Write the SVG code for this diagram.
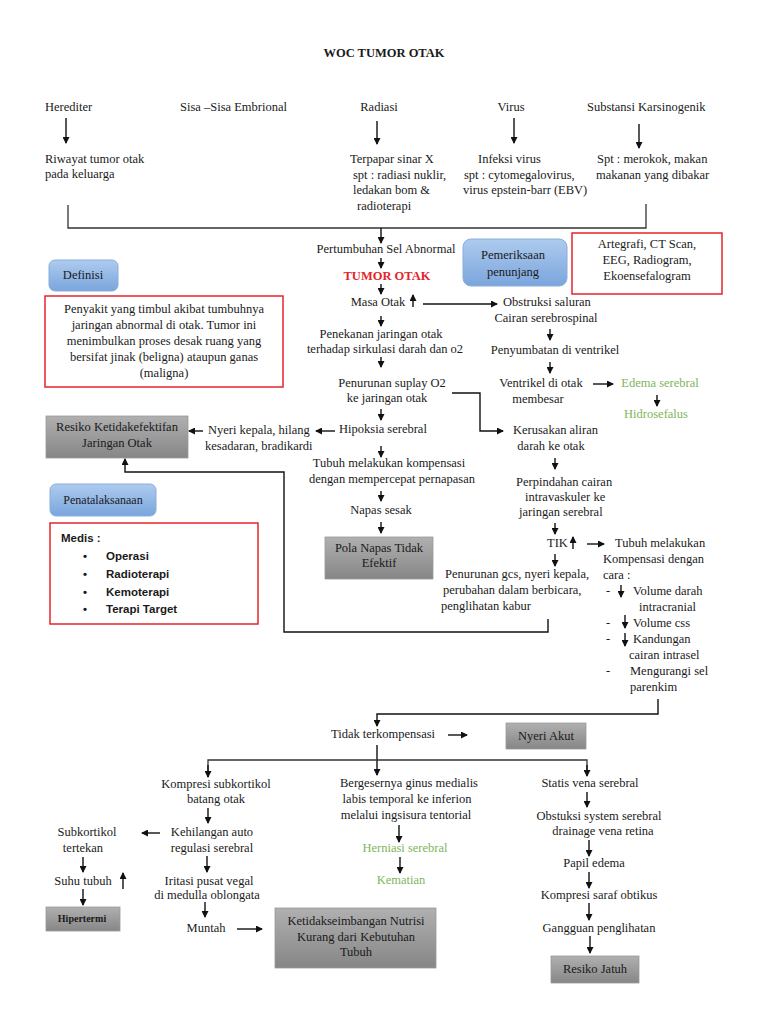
<svg xmlns="http://www.w3.org/2000/svg" width="768" height="1024" viewBox="0 0 768 1024">
<defs>
<linearGradient id="gray" x1="0" y1="0" x2="0" y2="1"><stop offset="0" stop-color="#b0b0b0"/><stop offset="1" stop-color="#868686"/></linearGradient>
<linearGradient id="blue" x1="0" y1="0" x2="0" y2="1"><stop offset="0" stop-color="#aecbef"/><stop offset="1" stop-color="#7aa5dc"/></linearGradient>
<marker id="ah" markerWidth="7" markerHeight="7" refX="6" refY="3.5" orient="auto" markerUnits="userSpaceOnUse"><path d="M0,0 L7,3.5 L0,7 Z" fill="#111"/></marker>
<style>
text{font-family:"Liberation Serif","Times New Roman",serif;font-size:12.5px;fill:#1a1a1a}
.m{text-anchor:middle}
.b{font-weight:bold}
.red{fill:#e3242b}
.grn{fill:#7db65a}
.sans{font-family:"Liberation Sans",Arial,sans-serif;font-weight:bold;font-size:11.5px}
.gbox{fill:url(#gray);stroke:#9a9a9a;stroke-width:0.8}
.bbtn{fill:url(#blue);stroke:#8aaed9;stroke-width:1}
.rbox{fill:#fff;stroke:#e3242b;stroke-width:1.5}
.ar{stroke:#111;stroke-width:1.4;fill:none;marker-end:url(#ah)}
.ln{stroke:#333;stroke-width:1.3;fill:none}
</style>
</defs>
<rect width="768" height="1024" fill="#fff"/>
<text x="384" y="57" class="m b">WOC TUMOR OTAK</text>

<g id="causes">
<g id="herediter"><text x="45" y="111">Herediter</text></g>
<g id="sisa"><text x="180" y="111">Sisa –Sisa Embrional</text></g>
<g id="radiasi"><text x="379" y="111" class="m">Radiasi</text></g>
<g id="virus"><text x="511" y="111" class="m">Virus</text></g>
<g id="substansi"><text x="587" y="111">Substansi Karsinogenik</text></g>
<g id="riwayat"><text x="45" y="163">Riwayat tumor otak</text><text x="45" y="178">pada keluarga</text></g>
<g id="terpapar"><text x="350" y="163">Terpapar sinar X</text><text x="353" y="178.5">spt : radiasi nuklir,</text><text x="353" y="194">ledakan bom &amp;</text><text x="357" y="209.5">radioterapi</text></g>
<g id="infeksi"><text x="478" y="163">Infeksi virus</text><text x="464" y="178.5">spt : cytomegalovirus,</text><text x="463" y="194">virus epstein-barr (EBV)</text></g>
<g id="merokok"><text x="597" y="163">Spt : merokok, makan</text><text x="596" y="178.5">makanan yang dibakar</text></g>
</g>

<g id="pertumbuhan"><text x="386" y="253" class="m">Pertumbuhan Sel Abnormal</text></g>
<g id="tumor"><text x="387" y="280" class="m b red">TUMOR OTAK</text></g>
<g id="masa"><text x="378" y="306" class="m">Masa Otak</text></g>
<g id="penekanan"><text x="381" y="338" class="m">Penekanan jaringan otak</text><text x="385" y="353" class="m">terhadap sirkulasi darah dan o2</text></g>
<g id="penurunan-o2"><text x="392" y="387" class="m">Penurunan suplay O2</text><text x="387" y="402" class="m">ke jaringan otak</text></g>
<g id="hipoksia"><text x="383" y="433" class="m">Hipoksia serebral</text></g>
<g id="nyeri-kepala"><text x="208" y="434">Nyeri kepala, hilang</text><text x="205" y="450">kesadaran, bradikardi</text></g>
<g id="resiko-jaringan"><rect x="46" y="416" width="142" height="42" class="gbox"/><text x="117" y="431" class="m">Resiko Ketidakefektifan</text><text x="117" y="447" class="m">Jaringan Otak</text></g>
<g id="kompensasi-napas"><text x="389" y="467" class="m">Tubuh melakukan kompensasi</text><text x="392" y="483" class="m">dengan mempercepat pernapasan</text></g>
<g id="napas-sesak"><text x="381" y="514" class="m">Napas sesak</text></g>
<g id="pola-napas"><rect x="325" y="537" width="108" height="42" class="gbox"/><text x="379" y="552" class="m">Pola Napas Tidak</text><text x="379" y="567" class="m">Efektif</text></g>

<g id="definisi"><rect x="49" y="260" width="69" height="31" rx="6" class="bbtn"/><text x="83" y="279" class="m">Definisi</text></g>
<g id="definisi-text"><rect x="45" y="296" width="238" height="91" class="rbox"/>
<text x="164" y="313" class="m">Penyakit yang timbul akibat tumbuhnya</text>
<text x="164" y="329" class="m">jaringan abnormal di otak. Tumor ini</text>
<text x="164" y="345" class="m">menimbulkan proses desak ruang yang</text>
<text x="164" y="361" class="m">bersifat jinak (beligna) ataupun ganas</text>
<text x="164" y="377" class="m">(maligna)</text></g>
<g id="penatalaksanaan"><rect x="50" y="484" width="106" height="32" rx="6" class="bbtn"/><text x="103" y="504" class="m" style="font-size:12px">Penatalaksanaan</text></g>
<g id="medis"><rect x="50" y="523" width="208" height="101" class="rbox"/>
<text x="61" y="542" class="sans">Medis :</text>
<text x="83" y="560" class="sans">•</text><text x="106" y="560" class="sans">Operasi</text>
<text x="83" y="578" class="sans">•</text><text x="106" y="578" class="sans">Radioterapi</text>
<text x="83" y="596" class="sans">•</text><text x="106" y="596" class="sans">Kemoterapi</text>
<text x="83" y="613" class="sans">•</text><text x="106" y="613" class="sans">Terapi Target</text></g>

<g id="penunjang"><rect x="463" y="239" width="104" height="47" rx="8" class="bbtn"/><text x="513" y="259" class="m">Pemeriksaan</text><text x="513" y="276" class="m">penunjang</text></g>
<g id="penunjang-text"><rect x="572" y="233" width="150" height="61" class="rbox"/><text x="647" y="248" class="m">Artegrafi, CT Scan,</text><text x="647" y="264" class="m">EEG, Radiogram,</text><text x="647" y="280" class="m">Ekoensefalogram</text></g>
<g id="obstruksi"><text x="503" y="306">Obstruksi saluran</text><text x="546" y="322" class="m">Cairan serebrospinal</text></g>
<g id="penyumbatan"><text x="555" y="354" class="m">Penyumbatan di ventrikel</text></g>
<g id="ventrikel"><text x="541" y="387" class="m">Ventrikel di otak</text><text x="538" y="403" class="m">membesar</text></g>
<g id="edema"><text x="660" y="387" class="m grn">Edema serebral</text></g>
<g id="hidrosefalus"><text x="656" y="418" class="m grn">Hidrosefalus</text></g>
<g id="kerusakan"><text x="513" y="434">Kerusakan aliran</text><text x="551" y="450" class="m">darah ke otak</text></g>
<g id="perpindahan"><text x="516" y="486">Perpindahan cairan</text><text x="525" y="501">intravaskuler ke</text><text x="519" y="516">jaringan serebral</text></g>
<g id="tik"><text x="547" y="547">TIK</text></g>
<g id="penurunan-gcs"><text x="445" y="578">Penurunan gcs, nyeri kepala,</text><text x="443" y="594">perubahan dalam berbicara,</text><text x="441" y="610">penglihatan kabur</text></g>
<g id="kompensasi-tik"><text x="615" y="547">Tubuh melakukan</text><text x="603" y="563">Kompensasi dengan</text><text x="603" y="579">cara :</text>
<text x="606" y="595">-</text><text x="633" y="595">Volume darah</text><text x="639" y="611">intracranial</text>
<text x="606" y="627">-</text><text x="633" y="627">Volume css</text>
<text x="606" y="643">-</text><text x="633" y="643">Kandungan</text><text x="629" y="659">cairan intrasel</text>
<text x="606" y="675">-</text><text x="630" y="675">Mengurangi sel</text><text x="630" y="691">parenkim</text></g>

<g id="tidak-terkompensasi"><text x="383" y="738" class="m">Tidak terkompensasi</text></g>
<g id="nyeri-akut"><rect x="506" y="723" width="80" height="26" class="gbox"/><text x="546" y="740" class="m">Nyeri Akut</text></g>
<g id="kompresi-sub"><text x="216" y="788" class="m">Kompresi subkortikol</text><text x="216" y="803" class="m">batang otak</text></g>
<g id="kehilangan"><text x="212" y="836" class="m">Kehilangan auto</text><text x="212" y="852" class="m">regulasi serebral</text></g>
<g id="subkortikol"><text x="87" y="836" class="m">Subkortikol</text><text x="83" y="852" class="m">tertekan</text></g>
<g id="suhu"><text x="83" y="885" class="m">Suhu tubuh</text></g>
<g id="hipertermi"><rect x="46" y="907" width="74" height="24" class="gbox"/><text x="82" y="922" class="m b" style="font-size:10px">Hipertermi</text></g>
<g id="iritasi"><text x="209" y="885" class="m">Iritasi pusat vegal</text><text x="207" y="899" class="m">di medulla oblongata</text></g>
<g id="muntah"><text x="206" y="932" class="m">Muntah</text></g>
<g id="nutrisi"><rect x="275" y="908" width="161" height="60" class="gbox"/><text x="356" y="925" class="m">Ketidakseimbangan Nutrisi</text><text x="356" y="941" class="m">Kurang dari Kebutuhan</text><text x="356" y="956" class="m">Tubuh</text></g>
<g id="bergesernya"><text x="409" y="787" class="m">Bergesernya ginus medialis</text><text x="407" y="803" class="m">labis temporal ke inferion</text><text x="406" y="819" class="m">melalui ingsisura tentorial</text></g>
<g id="herniasi"><text x="405" y="852" class="m grn">Herniasi serebral</text></g>
<g id="kematian"><text x="401" y="884" class="m grn">Kematian</text></g>
<g id="statis"><text x="590" y="787" class="m">Statis vena serebral</text></g>
<g id="obstuksi-system"><text x="599" y="820" class="m">Obstuksi system serebral</text><text x="603" y="835" class="m">drainage vena retina</text></g>
<g id="papil"><text x="594" y="867" class="m">Papil edema</text></g>
<g id="kompresi-saraf"><text x="599" y="899" class="m">Kompresi saraf obtikus</text></g>
<g id="gangguan"><text x="599" y="932" class="m">Gangguan penglihatan</text></g>
<g id="resiko-jatuh"><rect x="551" y="956" width="88" height="27" class="gbox"/><text x="595" y="973" class="m">Resiko Jatuh</text></g>

<g id="connectors">
<line x1="66" y1="118" x2="66" y2="143" class="ar"/>
<line x1="377" y1="121" x2="377" y2="144" class="ar"/>
<line x1="514" y1="118" x2="514" y2="143" class="ar"/>
<line x1="639" y1="124" x2="639" y2="148" class="ar"/>
<polyline points="68,205 68,228 646,228 646,204" class="ln"/>
<line x1="381" y1="228" x2="381" y2="243" class="ar"/>
<line x1="381" y1="258" x2="381" y2="268" class="ar"/>
<line x1="381" y1="284" x2="381" y2="294" class="ar"/>
<line x1="413" y1="307" x2="413" y2="295" class="ar"/>
<line x1="423" y1="304" x2="497" y2="304" class="ar"/>
<line x1="381" y1="316" x2="381" y2="326" class="ar"/>
<line x1="381" y1="357" x2="381" y2="367" class="ar"/>
<line x1="381" y1="409" x2="381" y2="420" class="ar"/>
<polyline points="452,393 480,393 480,431 503,431" class="ar"/>
<line x1="335" y1="431" x2="316" y2="431" class="ar"/>
<line x1="203" y1="431" x2="189" y2="431" class="ar"/>
<line x1="381" y1="446" x2="381" y2="457" class="ar"/>
<line x1="381" y1="491" x2="381" y2="501" class="ar"/>
<line x1="381" y1="522" x2="381" y2="533" class="ar"/>
<line x1="550" y1="329" x2="550" y2="340" class="ar"/>
<line x1="550" y1="362" x2="550" y2="373" class="ar"/>
<line x1="593" y1="384" x2="613" y2="384" class="ar"/>
<line x1="657" y1="395" x2="657" y2="406" class="ar"/>
<line x1="555" y1="458" x2="555" y2="469" class="ar"/>
<line x1="555" y1="523" x2="555" y2="534" class="ar"/>
<line x1="573" y1="549" x2="573" y2="537" class="ar"/>
<line x1="587" y1="544" x2="604" y2="544" class="ar"/>
<line x1="555" y1="554" x2="555" y2="566" class="ar"/>
<line x1="621" y1="585" x2="621" y2="597" class="ar"/>
<line x1="625" y1="615" x2="625" y2="628" class="ar"/>
<line x1="625" y1="633" x2="625" y2="646" class="ar"/>
<polyline points="548,619 548,632 284,632 284,472 125,472 125,459" class="ar"/>
<polyline points="658,699 658,714 377,714 377,726" class="ar"/>
<line x1="448" y1="735" x2="467" y2="735" class="ar"/>
<line x1="377" y1="745" x2="377" y2="775" class="ar"/>
<polyline points="208,777 208,760 587,760 587,776" class="ln"/>
<line x1="208" y1="765" x2="208" y2="777" class="ar"/>
<line x1="587" y1="765" x2="587" y2="776" class="ar"/>
<line x1="208" y1="808" x2="208" y2="823" class="ar"/>
<line x1="160" y1="833" x2="142" y2="833" class="ar"/>
<line x1="83" y1="857" x2="83" y2="872" class="ar"/>
<line x1="123" y1="889" x2="123" y2="873" class="ar"/>
<line x1="83" y1="889" x2="83" y2="905" class="ar"/>
<line x1="207" y1="856" x2="207" y2="872" class="ar"/>
<line x1="205" y1="902" x2="205" y2="917" class="ar"/>
<line x1="237" y1="929" x2="262" y2="929" class="ar"/>
<line x1="399" y1="825" x2="399" y2="842" class="ar"/>
<line x1="400" y1="857" x2="400" y2="873" class="ar"/>
<line x1="587" y1="792" x2="587" y2="807" class="ar"/>
<line x1="589" y1="840" x2="589" y2="856" class="ar"/>
<line x1="589" y1="872" x2="589" y2="888" class="ar"/>
<line x1="589" y1="903" x2="589" y2="920" class="ar"/>
<line x1="590" y1="936" x2="590" y2="953" class="ar"/>
</g>
</svg>
